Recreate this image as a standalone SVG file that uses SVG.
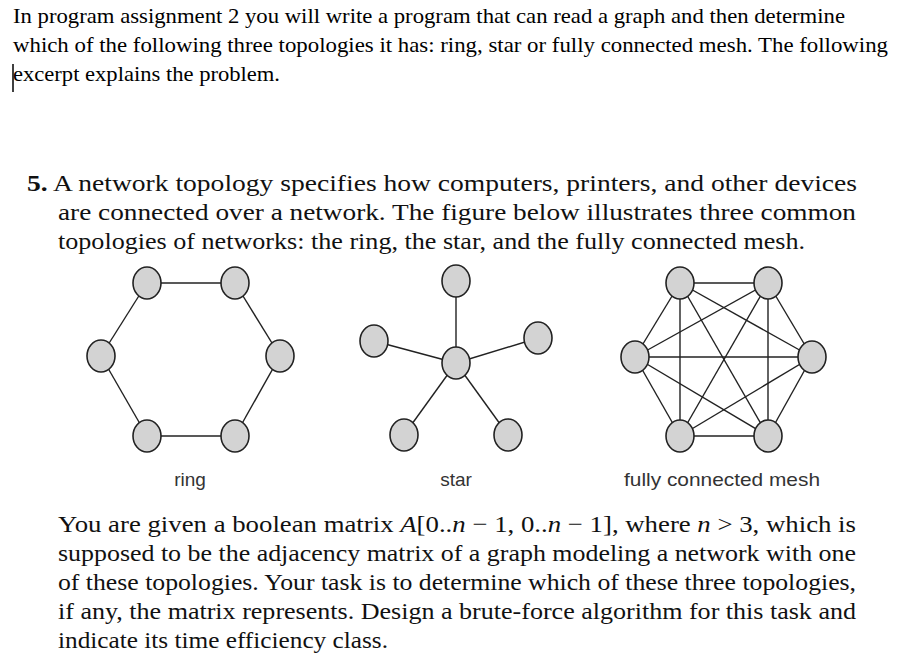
<svg xmlns="http://www.w3.org/2000/svg" width="912" height="660" viewBox="0 0 912 660">
<style>
.t{font-family:"Liberation Serif",serif;font-size:21px;fill:#000}
.b{font-family:"Liberation Serif",serif;font-size:24px;fill:#111}
.l{font-family:"Liberation Sans",Arial,sans-serif;font-size:19px;fill:#333;text-anchor:middle}
.n{fill:#d3d3d3;stroke:#222;stroke-width:1.6}
.e line{stroke:#222;stroke-width:1.4}
</style>
<rect width="912" height="660" fill="#fff"/>
<text class="t" x="13" y="23" textLength="832" lengthAdjust="spacingAndGlyphs">In program assignment 2 you will write a program that can read a graph and then determine</text>
<text class="t" x="13" y="52" textLength="875" lengthAdjust="spacingAndGlyphs">which of the following three topologies it has: ring, star or fully connected mesh.  The following</text>
<text class="t" x="13" y="81" textLength="267" lengthAdjust="spacingAndGlyphs">excerpt explains the problem.</text>
<line x1="13" y1="64" x2="13" y2="92" stroke="#000" stroke-width="1.5"/>
<text class="b" x="27" y="191" textLength="830" lengthAdjust="spacingAndGlyphs"><tspan font-weight="bold">5.</tspan> A network topology specifies how computers, printers, and other devices</text>
<text class="b" x="58" y="220" textLength="798" lengthAdjust="spacingAndGlyphs">are connected over a network. The figure below illustrates three common</text>
<text class="b" x="58" y="249" textLength="747" lengthAdjust="spacingAndGlyphs">topologies of networks: the ring, the star, and the fully connected mesh.</text>
<g id="edges" class="e">
<line x1="147" y1="283" x2="235" y2="283"/><line x1="235" y1="283" x2="280" y2="356"/><line x1="280" y1="356" x2="235" y2="436"/><line x1="235" y1="436" x2="147" y2="436"/><line x1="147" y1="436" x2="101" y2="356"/><line x1="101" y1="356" x2="147" y2="283"/>
<line x1="456" y1="363" x2="456" y2="281"/><line x1="456" y1="363" x2="374" y2="341"/><line x1="456" y1="363" x2="538" y2="338"/><line x1="456" y1="363" x2="404" y2="435"/><line x1="456" y1="363" x2="508" y2="435"/>
<line x1="680" y1="283" x2="768" y2="283"/><line x1="680" y1="283" x2="635" y2="357"/><line x1="680" y1="283" x2="812" y2="357"/><line x1="680" y1="283" x2="680" y2="436"/><line x1="680" y1="283" x2="768" y2="436"/>
<line x1="768" y1="283" x2="635" y2="357"/><line x1="768" y1="283" x2="812" y2="357"/><line x1="768" y1="283" x2="680" y2="436"/><line x1="768" y1="283" x2="768" y2="436"/>
<line x1="635" y1="357" x2="812" y2="357" stroke="#999"/><line x1="635" y1="357" x2="680" y2="436"/><line x1="635" y1="357" x2="768" y2="436"/>
<line x1="812" y1="357" x2="680" y2="436"/><line x1="812" y1="357" x2="768" y2="436"/><line x1="680" y1="436" x2="768" y2="436"/>
</g>
<g id="ring">
<ellipse class="n" cx="147" cy="283" rx="14" ry="16"/><ellipse class="n" cx="235" cy="283" rx="14" ry="16"/><ellipse class="n" cx="101" cy="356" rx="14" ry="16"/><ellipse class="n" cx="280" cy="356" rx="14" ry="16"/><ellipse class="n" cx="147" cy="436" rx="14" ry="16"/><ellipse class="n" cx="235" cy="436" rx="14" ry="16"/>
</g>
<g id="star">
<ellipse class="n" cx="456" cy="281" rx="14" ry="16"/><ellipse class="n" cx="374" cy="341" rx="14" ry="16"/><ellipse class="n" cx="538" cy="338" rx="14" ry="16"/><ellipse class="n" cx="456" cy="363" rx="14" ry="16"/><ellipse class="n" cx="404" cy="435" rx="14" ry="16"/><ellipse class="n" cx="508" cy="435" rx="14" ry="16"/>
</g>
<g id="mesh">
<ellipse class="n" cx="680" cy="283" rx="14" ry="16"/><ellipse class="n" cx="768" cy="283" rx="14" ry="16"/><ellipse class="n" cx="635" cy="357" rx="14" ry="16"/><ellipse class="n" cx="812" cy="357" rx="14" ry="16"/><ellipse class="n" cx="680" cy="436" rx="14" ry="16"/><ellipse class="n" cx="768" cy="436" rx="14" ry="16"/>
</g>
<text class="l" x="190" y="486">ring</text>
<text class="l" x="456" y="486">star</text>
<text class="l" x="722" y="486" textLength="196" lengthAdjust="spacingAndGlyphs">fully connected mesh</text>
<text class="b" x="58" y="532" textLength="798" lengthAdjust="spacingAndGlyphs">You are given a boolean matrix <tspan font-style="italic">A</tspan>[0..<tspan font-style="italic">n</tspan> − 1, 0..<tspan font-style="italic">n</tspan> − 1], where <tspan font-style="italic">n</tspan> &gt; 3, which is</text>
<text class="b" x="58" y="561" textLength="798" lengthAdjust="spacingAndGlyphs">supposed to be the adjacency matrix of a graph modeling a network with one</text>
<text class="b" x="58" y="590" textLength="798" lengthAdjust="spacingAndGlyphs">of these topologies. Your task is to determine which of these three topologies,</text>
<text class="b" x="58" y="619" textLength="798" lengthAdjust="spacingAndGlyphs">if any, the matrix represents. Design a brute-force algorithm for this task and</text>
<text class="b" x="58" y="648" textLength="330" lengthAdjust="spacingAndGlyphs">indicate its time efficiency class.</text>
</svg>
